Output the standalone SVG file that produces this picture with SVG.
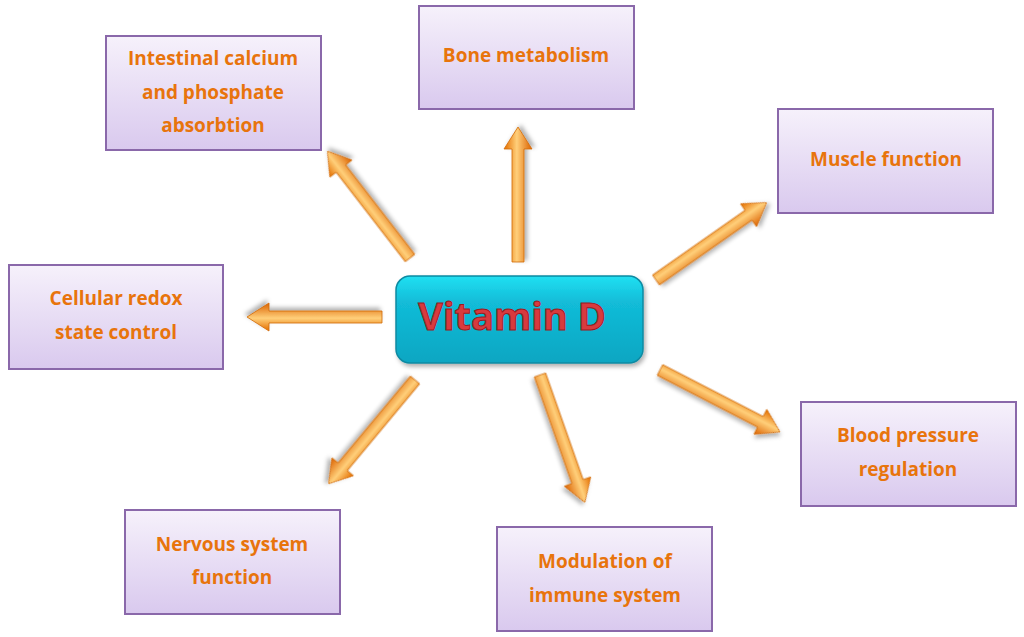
<svg xmlns="http://www.w3.org/2000/svg" width="1024" height="637" viewBox="0 0 1024 637">
<defs>
<linearGradient id="bg" x1="0" y1="0" x2="0" y2="1"><stop offset="0" stop-color="#f6f1fb"/><stop offset="1" stop-color="#d9c9ee"/></linearGradient>
<linearGradient id="cg" x1="0" y1="0" x2="0" y2="1"><stop offset="0" stop-color="#22e0f2"/><stop offset="0.3" stop-color="#12bcd8"/><stop offset="1" stop-color="#0aa6c2"/></linearGradient>
<linearGradient id="ag" gradientUnits="userSpaceOnUse" x1="0" y1="-12" x2="0" y2="12"><stop offset="0" stop-color="#e87c10"/><stop offset="0.45" stop-color="#ffcf7a"/><stop offset="1" stop-color="#e07010"/></linearGradient>
<filter id="sh" x="-10%" y="-10%" width="130%" height="140%"><feDropShadow dx="2" dy="3" stdDeviation="2" flood-color="#000" flood-opacity="0.3"/></filter>
<path id="arr" d="M0,-6 L113,-6 L113,-14 L135,0 L113,14 L113,6 L0,6 Z"/>
</defs>
<style>
.box{fill:url(#bg);stroke:#8a68aa;stroke-width:2}
.t{font-family:"Open Sans","Liberation Sans",sans-serif;font-weight:bold;font-size:19px;fill:#e8740c;text-anchor:middle}
.a{fill:url(#ag);stroke:#d06a08;stroke-width:0.8;filter:url(#sh)}
</style>
<g id="connectors">
<use href="#arr" class="a" transform="translate(410,258) rotate(-127.7)"/>
<use href="#arr" class="a" transform="translate(518,262) rotate(-90)"/>
<use href="#arr" class="a" transform="translate(656,280) rotate(-35)"/>
<use href="#arr" class="a" transform="translate(382,317) rotate(180)"/>
<use href="#arr" class="a" transform="translate(660,370) rotate(27.3)"/>
<use href="#arr" class="a" transform="translate(415,380) rotate(129.8)"/>
<use href="#arr" class="a" transform="translate(540,375) rotate(70.6)"/>
</g>
<g id="center"><rect x="396" y="276" width="247" height="87" rx="14" fill="url(#cg)" stroke="#0a8aa2" stroke-width="1.5" filter="url(#sh)"/>
<text x="512" y="330" font-family="Open Sans,Liberation Sans,sans-serif" font-size="38" font-weight="bold" fill="#d83a3e" stroke="#9a1a1e" stroke-width="1" text-anchor="middle">Vitamin D</text></g>
<g id="n1"><rect class="box" x="106" y="36" width="215" height="114"/><text class="t" x="213" y="65">Intestinal calcium</text><text class="t" x="213" y="99">and phosphate</text><text class="t" x="213" y="132">absorbtion</text></g>
<g id="n2"><rect class="box" x="419" y="6" width="215" height="103"/><text class="t" x="526" y="62">Bone metabolism</text></g>
<g id="n3"><rect class="box" x="778" y="109" width="215" height="104"/><text class="t" x="886" y="166">Muscle function</text></g>
<g id="n4"><rect class="box" x="9" y="265" width="214" height="104"/><text class="t" x="116" y="305">Cellular redox</text><text class="t" x="116" y="339">state control</text></g>
<g id="n5"><rect class="box" x="801" y="402" width="215" height="104"/><text class="t" x="908" y="442">Blood pressure</text><text class="t" x="908" y="476">regulation</text></g>
<g id="n6"><rect class="box" x="125" y="510" width="215" height="104"/><text class="t" x="232" y="551">Nervous system</text><text class="t" x="232" y="584">function</text></g>
<g id="n7"><rect class="box" x="497" y="527" width="215" height="104"/><text class="t" x="605" y="568">Modulation of</text><text class="t" x="605" y="602">immune system</text></g>
</svg>
